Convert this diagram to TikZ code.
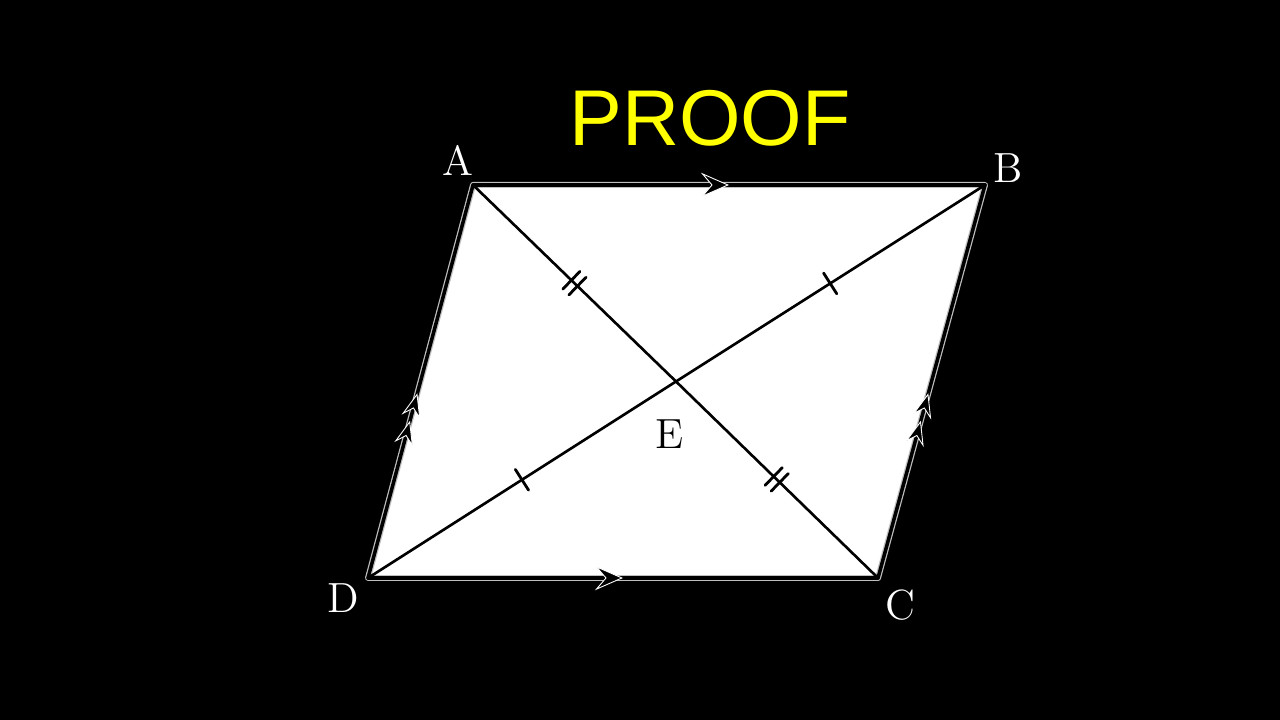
\documentclass[tikz,border=0pt]{standalone}
\usepackage{fontspec}
\newfontfamily\titlefont{Liberation Sans}
\usetikzlibrary{arrows.meta,decorations.markings}
\tikzset{
  sidetip/.tip={Stealth[length=8pt,width=7pt,inset=3pt,fill=black,color=white,line width=0.25pt]},
  smalltip/.tip={Stealth[length=7pt,width=5.5pt,inset=2.5pt,fill=black,color=white,line width=0.25pt]}
}

\begin{document}
\begin{tikzpicture}[line cap=round,line join=round,x=1.0cm,y=1.0cm,
    side/.style={line width=1pt},
    halo/.style={white!75!black,line width=1.7pt},
    diag/.style={line width=0.75pt},
    lbl/.style={font=\fontsize{12}{14}\selectfont},
    onearrow/.style={postaction={decorate},decoration={markings,
      mark=at position #1 with {\arrow{sidetip}}}},
    twoarrow/.style={postaction={decorate},decoration={markings,
      mark=at position 0.40 with {\arrow{smalltip}},
      mark=at position 0.47 with {\arrow{smalltip}}}},
    onetick/.style={postaction={decorate},decoration={markings,
      mark=at position 0.5 with {\draw[line width=0.8pt] (0,-3.5pt) -- (0,3.5pt);}}},
    twotick/.style={postaction={decorate},decoration={markings,
      mark=at position 0.5 with {\draw[line width=0.8pt] (-1.2pt,-3.5pt) -- (-1.2pt,3.5pt) (1.2pt,-3.5pt) -- (1.2pt,3.5pt);}}}]
\useasboundingbox (0,0) rectangle (12.8,7.2);
\fill[black] (0,0) rectangle (12.8,7.2);
% vertices
\coordinate (A) at (4.73,5.35);
\coordinate (B) at (9.85,5.35);
\coordinate (C) at (8.78,1.42);
\coordinate (D) at (3.68,1.42);
\coordinate (E) at (6.76,3.385);
\fill[white] (A) -- (B) -- (C) -- (D) -- cycle;
\draw[halo] (A) -- (B) -- (C) -- (D) -- cycle;
% diagonals
\draw[diag,twotick] (A) -- (E);
\draw[diag,twotick] (E) -- (C);
\draw[diag,onetick] (D) -- (E);
\draw[diag,onetick] (E) -- (B);
% sides
\draw[side,onearrow=0.5] (A) -- (B);
\draw[side,onearrow=0.5] (D) -- (C);
\draw[side,twoarrow] (D) -- (A);
\draw[side,twoarrow] (C) -- (B);
% labels
\node[lbl,text=white] (labA) at (4.58,5.60) {A};
\node[lbl,text=white] (labB) at (10.08,5.52) {B};
\node[lbl,text=white] (labC) at (9.00,1.15) {C};
\node[lbl,text=white] (labD) at (3.43,1.22) {D};
\node[lbl] (labE) at (6.70,2.86) {E};
\node[text={rgb,255:red,255;green,255;blue,0},font=\titlefont\fontsize{22.5}{26}\selectfont] (title) at (7.10,6.02) {PROOF};
\end{tikzpicture}
\end{document}
